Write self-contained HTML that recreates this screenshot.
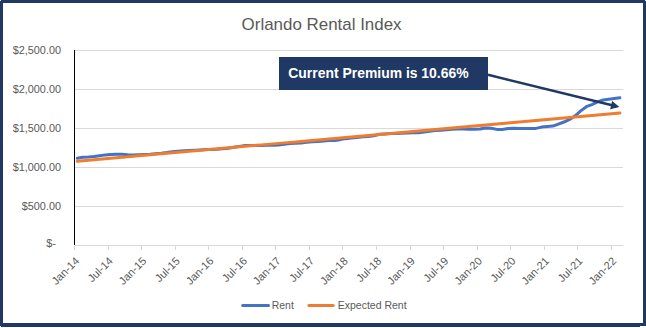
<!DOCTYPE html>
<html><head><meta charset="utf-8"><style>
html,body{margin:0;padding:0;width:646px;height:328px;overflow:hidden;background:#fff}
svg text{font-family:"Liberation Sans", sans-serif}
</style></head><body>
<svg width="646" height="328" viewBox="0 0 646 328" style="position:absolute;left:0;top:0">
<rect x="0" y="0" width="646" height="328" fill="#fff"/>
<rect x="75" y="50" width="548" height="1" fill="#D9D9D9"/>
<rect x="75" y="89" width="548" height="1" fill="#D9D9D9"/>
<rect x="75" y="128" width="548" height="1" fill="#D9D9D9"/>
<rect x="75" y="167" width="548" height="1" fill="#D9D9D9"/>
<rect x="75" y="206" width="548" height="1" fill="#D9D9D9"/>
<rect x="75" y="245" width="548" height="1" fill="#D9D9D9"/>
<rect x="74" y="246" width="1" height="4" fill="#D9D9D9"/>
<rect x="108" y="246" width="1" height="4" fill="#D9D9D9"/>
<rect x="141" y="246" width="1" height="4" fill="#D9D9D9"/>
<rect x="175" y="246" width="1" height="4" fill="#D9D9D9"/>
<rect x="208" y="246" width="1" height="4" fill="#D9D9D9"/>
<rect x="242" y="246" width="1" height="4" fill="#D9D9D9"/>
<rect x="275" y="246" width="1" height="4" fill="#D9D9D9"/>
<rect x="309" y="246" width="1" height="4" fill="#D9D9D9"/>
<rect x="342" y="246" width="1" height="4" fill="#D9D9D9"/>
<rect x="376" y="246" width="1" height="4" fill="#D9D9D9"/>
<rect x="410" y="246" width="1" height="4" fill="#D9D9D9"/>
<rect x="443" y="246" width="1" height="4" fill="#D9D9D9"/>
<rect x="477" y="246" width="1" height="4" fill="#D9D9D9"/>
<rect x="510" y="246" width="1" height="4" fill="#D9D9D9"/>
<rect x="544" y="246" width="1" height="4" fill="#D9D9D9"/>
<rect x="577" y="246" width="1" height="4" fill="#D9D9D9"/>
<rect x="611" y="246" width="1" height="4" fill="#D9D9D9"/>
<rect x="74" y="50" width="1" height="195" fill="#000"/>
<text x="61" y="53.5" text-anchor="end" font-size="10.5" fill="#595959" textLength="48.35" lengthAdjust="spacingAndGlyphs">$2,500.00</text>
<text x="61" y="92.5" text-anchor="end" font-size="10.5" fill="#595959" textLength="48.35" lengthAdjust="spacingAndGlyphs">$2,000.00</text>
<text x="61" y="131.5" text-anchor="end" font-size="10.5" fill="#595959" textLength="48.35" lengthAdjust="spacingAndGlyphs">$1,500.00</text>
<text x="61" y="170.5" text-anchor="end" font-size="10.5" fill="#595959" textLength="48.35" lengthAdjust="spacingAndGlyphs">$1,000.00</text>
<text x="61" y="209.5" text-anchor="end" font-size="10.5" fill="#595959" textLength="39.28" lengthAdjust="spacingAndGlyphs">$500.00</text>
<text x="56" y="247.3" text-anchor="end" font-size="10.5" fill="#595959" textLength="9.66" lengthAdjust="spacingAndGlyphs">$-</text>
<text x="80.00" y="261.6" text-anchor="end" font-size="11" fill="#595959" transform="rotate(-45 80.00 261.6)">Jan-14</text>
<text x="113.56" y="261.6" text-anchor="end" font-size="11" fill="#595959" transform="rotate(-45 113.56 261.6)">Jul-14</text>
<text x="147.12" y="261.6" text-anchor="end" font-size="11" fill="#595959" transform="rotate(-45 147.12 261.6)">Jan-15</text>
<text x="180.69" y="261.6" text-anchor="end" font-size="11" fill="#595959" transform="rotate(-45 180.69 261.6)">Jul-15</text>
<text x="214.25" y="261.6" text-anchor="end" font-size="11" fill="#595959" transform="rotate(-45 214.25 261.6)">Jan-16</text>
<text x="247.81" y="261.6" text-anchor="end" font-size="11" fill="#595959" transform="rotate(-45 247.81 261.6)">Jul-16</text>
<text x="281.38" y="261.6" text-anchor="end" font-size="11" fill="#595959" transform="rotate(-45 281.38 261.6)">Jan-17</text>
<text x="314.94" y="261.6" text-anchor="end" font-size="11" fill="#595959" transform="rotate(-45 314.94 261.6)">Jul-17</text>
<text x="348.50" y="261.6" text-anchor="end" font-size="11" fill="#595959" transform="rotate(-45 348.50 261.6)">Jan-18</text>
<text x="382.06" y="261.6" text-anchor="end" font-size="11" fill="#595959" transform="rotate(-45 382.06 261.6)">Jul-18</text>
<text x="415.62" y="261.6" text-anchor="end" font-size="11" fill="#595959" transform="rotate(-45 415.62 261.6)">Jan-19</text>
<text x="449.19" y="261.6" text-anchor="end" font-size="11" fill="#595959" transform="rotate(-45 449.19 261.6)">Jul-19</text>
<text x="482.75" y="261.6" text-anchor="end" font-size="11" fill="#595959" transform="rotate(-45 482.75 261.6)">Jan-20</text>
<text x="516.31" y="261.6" text-anchor="end" font-size="11" fill="#595959" transform="rotate(-45 516.31 261.6)">Jul-20</text>
<text x="549.88" y="261.6" text-anchor="end" font-size="11" fill="#595959" transform="rotate(-45 549.88 261.6)">Jan-21</text>
<text x="583.44" y="261.6" text-anchor="end" font-size="11" fill="#595959" transform="rotate(-45 583.44 261.6)">Jul-21</text>
<text x="617.00" y="261.6" text-anchor="end" font-size="11" fill="#595959" transform="rotate(-45 617.00 261.6)">Jan-22</text>
<polyline points="77.30,158.16 82.89,157.17 88.48,156.93 94.08,156.56 99.67,155.67 105.27,154.88 110.86,154.44 116.45,154.16 122.05,154.37 127.64,154.79 133.23,154.95 138.83,154.73 144.42,154.46 150.02,154.20 155.61,153.64 161.20,153.12 166.80,152.47 172.39,151.64 177.98,151.13 183.58,150.76 189.17,150.52 194.77,150.21 200.36,149.88 205.95,149.58 211.55,149.45 217.14,149.32 222.73,148.78 228.33,148.15 233.92,147.26 239.52,146.37 245.11,145.50 250.70,145.50 256.30,145.50 261.89,145.50 267.48,145.36 273.08,145.22 278.67,145.12 284.27,144.18 289.86,143.56 295.45,143.35 301.05,142.94 306.64,142.36 312.23,141.88 317.83,141.49 323.42,141.06 329.02,140.50 334.61,140.40 340.20,139.64 345.80,138.64 351.39,138.13 356.98,137.53 362.58,136.83 368.17,136.40 373.77,135.78 379.36,134.22 384.95,133.89 390.55,133.58 396.14,133.42 401.73,133.24 407.33,133.04 412.92,132.85 418.52,132.65 424.11,132.01 429.70,131.21 435.30,130.52 440.89,130.19 446.48,129.78 452.08,129.27 457.67,129.10 463.27,129.10 468.86,129.15 474.45,129.19 480.05,129.09 485.64,128.07 491.23,128.17 496.83,129.40 502.42,129.40 508.02,128.54 513.61,128.27 519.20,128.38 524.80,128.40 530.39,128.40 535.98,128.40 541.58,127.10 547.17,126.52 552.77,126.12 558.36,124.07 563.95,122.02 569.55,119.41 575.14,115.88 580.73,110.90 586.33,106.72 591.92,104.53 597.52,101.93 603.11,99.98 608.70,99.23 614.30,98.50 619.89,97.72" fill="none" stroke="#4472C4" stroke-width="3" stroke-linejoin="round" stroke-linecap="round"/>
<polyline points="77.30,161.26 82.89,160.76 88.48,160.26 94.08,159.77 99.67,159.27 105.27,158.77 110.86,158.28 116.45,157.78 122.05,157.28 127.64,156.79 133.23,156.29 138.83,155.79 144.42,155.30 150.02,154.80 155.61,154.30 161.20,153.81 166.80,153.31 172.39,152.81 177.98,152.32 183.58,151.82 189.17,151.32 194.77,150.83 200.36,150.33 205.95,149.83 211.55,149.34 217.14,148.84 222.73,148.34 228.33,147.85 233.92,147.35 239.52,146.85 245.11,146.36 250.70,145.86 256.30,145.36 261.89,144.87 267.48,144.37 273.08,143.87 278.67,143.38 284.27,142.88 289.86,142.38 295.45,141.89 301.05,141.39 306.64,140.89 312.23,140.40 317.83,139.90 323.42,139.40 329.02,138.91 334.61,138.41 340.20,137.91 345.80,137.42 351.39,136.92 356.98,136.42 362.58,135.93 368.17,135.43 373.77,134.93 379.36,134.44 384.95,133.94 390.55,133.44 396.14,132.95 401.73,132.45 407.33,131.95 412.92,131.46 418.52,130.96 424.11,130.46 429.70,129.97 435.30,129.47 440.89,128.97 446.48,128.48 452.08,127.98 457.67,127.48 463.27,126.99 468.86,126.49 474.45,125.99 480.05,125.50 485.64,125.00 491.23,124.50 496.83,124.01 502.42,123.51 508.02,123.01 513.61,122.52 519.20,122.02 524.80,121.52 530.39,121.03 535.98,120.53 541.58,120.03 547.17,119.53 552.77,119.04 558.36,118.54 563.95,118.04 569.55,117.55 575.14,117.05 580.73,116.55 586.33,116.06 591.92,115.56 597.52,115.06 603.11,114.57 608.70,114.07 614.30,113.57 619.89,113.08" fill="none" stroke="#ED7D31" stroke-width="3" stroke-linejoin="round" stroke-linecap="round"/>
<text x="241.6" y="29.8" font-size="16.2" fill="#595959" textLength="160" lengthAdjust="spacingAndGlyphs">Orlando Rental Index</text>
<rect x="279" y="57" width="209" height="33" fill="#203864"/>
<text x="288.3" y="77.9" font-size="14.2" font-weight="bold" fill="#fff" textLength="180.3" lengthAdjust="spacingAndGlyphs">Current Premium is 10.66%</text>
<line x1="488" y1="74.8" x2="612.12" y2="105.31" stroke="#203864" stroke-width="2.5"/>
<polygon points="619.4,107.1 610.14,109.15 612.15,100.99" fill="#203864"/>
<line x1="242.7" y1="305.5" x2="268.5" y2="305.5" stroke="#4472C4" stroke-width="3" stroke-linecap="round"/>
<text x="271.8" y="308.9" font-size="10.2" fill="#595959" textLength="22" lengthAdjust="spacingAndGlyphs">Rent</text>
<line x1="308.9" y1="305.5" x2="333.2" y2="305.5" stroke="#ED7D31" stroke-width="3" stroke-linecap="round"/>
<text x="337.7" y="308.9" font-size="10.2" fill="#595959" textLength="68.9" lengthAdjust="spacingAndGlyphs">Expected Rent</text>
<rect x="1.5" y="1.5" width="643" height="323" fill="none" stroke="#203864" stroke-width="3"/>
<rect x="1" y="326" width="639" height="1" fill="#203864"/>
<rect x="0" y="0" width="1" height="1" fill="#dfe3ea"/><rect x="645" y="0" width="1" height="1" fill="#dfe3ea"/>
</svg>
</body></html>
